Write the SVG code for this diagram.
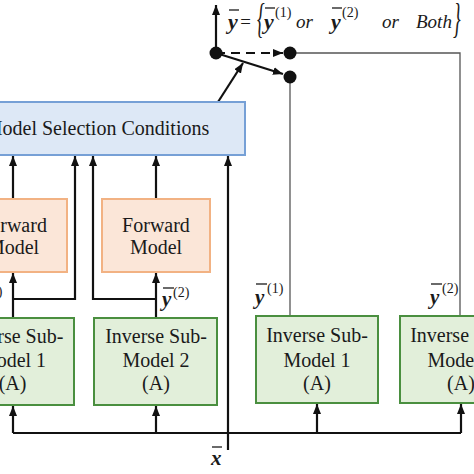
<svg xmlns="http://www.w3.org/2000/svg" width="474" height="474" viewBox="0 0 474 474">
<style>
.msc{fill:#dde8f6;stroke:#76a0d6;stroke-width:2}
.fwd{fill:#fbe6d8;stroke:#f2b283;stroke-width:2}
.inv{fill:#e2efda;stroke:#4a8f3f;stroke-width:2}
text{font-family:'Liberation Serif','DejaVu Serif',serif;fill:#1a1a1a}
.t{font-size:20px;text-anchor:middle}
.v{font-style:italic;font-weight:bold}
.s{font-size:14px}
.e{font-style:italic;font-size:19px}
.bar{stroke:#1a1a1a;stroke-width:1.3}
.c{fill:none;stroke:#111;stroke-width:2.2}
.g{fill:none;stroke:#555;stroke-width:1.3}
</style>
<defs>
<marker id="ah" viewBox="0 0 10 8" refX="10" refY="4" markerWidth="10" markerHeight="8" markerUnits="userSpaceOnUse" orient="auto">
<path d="M0,0 L10,4 L0,8 z" fill="#111"/>
</marker>
</defs>
<rect width="474" height="474" fill="#fff"/>

<g id="connectors">
<path class="c" d="M228,450 V156" marker-end="url(#ah)"/>
<path class="c" d="M13,433 H461"/>
<path class="c" d="M13,433 V406" marker-end="url(#ah)"/>
<path class="c" d="M156,433 V406" marker-end="url(#ah)"/>
<path class="c" d="M317,433 V404" marker-end="url(#ah)"/>
<path class="c" d="M461,433 V404" marker-end="url(#ah)"/>
<path class="c" d="M13,317 V273" marker-end="url(#ah)"/>
<path class="c" d="M13,299 H75 V156" marker-end="url(#ah)"/>
<path class="c" d="M13,199 V156" marker-end="url(#ah)"/>
<path class="c" d="M156,318 V273" marker-end="url(#ah)"/>
<path class="c" d="M156,299 H93 V156" marker-end="url(#ah)"/>
<path class="c" d="M156,199 V156" marker-end="url(#ah)"/>
<path class="c" d="M218,102 L243,63" marker-end="url(#ah)"/>
<path class="c" d="M216,53 V5" marker-end="url(#ah)"/>
<path class="c" d="M216,53 H283" stroke-dasharray="9,6" marker-end="url(#ah)"/>
<path class="c" d="M216,53 L283,74" marker-end="url(#ah)"/>
<path class="g" d="M290,53 H460 V315"/>
<path class="g" d="M290,77 V316"/>
<circle cx="216" cy="53" r="6.5" fill="#111"/>
<circle cx="290" cy="53" r="6.5" fill="#111"/>
<circle cx="290" cy="77" r="6.5" fill="#111"/>
</g>

<g id="msc">
<rect class="msc" x="-52" y="102" width="297" height="53"/>
<text class="t" x="97" y="135">Model Selection Conditions</text>
</g>

<g id="fwd1">
<rect class="fwd" x="-41" y="199" width="108" height="73"/>
<text class="t" x="13" y="232">Forward</text>
<text class="t" x="13" y="254">Model</text>
</g>
<g id="fwd2">
<rect class="fwd" x="102" y="199" width="108" height="73"/>
<text class="t" x="156" y="232">Forward</text>
<text class="t" x="156" y="254">Model</text>
</g>

<g id="inv1">
<rect class="inv" x="-49" y="318" width="123" height="87"/>
<text class="t" x="12.5" y="343">Inverse Sub-</text>
<text class="t" x="12.5" y="367">Model 1</text>
<text class="t" x="12.5" y="390">(A)</text>
</g>
<g id="inv2">
<rect class="inv" x="94" y="318" width="123" height="87"/>
<text class="t" x="156" y="343">Inverse Sub-</text>
<text class="t" x="156" y="367">Model 2</text>
<text class="t" x="156" y="390">(A)</text>
</g>
<g id="inv3">
<rect class="inv" x="256" y="316" width="122" height="87"/>
<text class="t" x="317" y="342">Inverse Sub-</text>
<text class="t" x="317" y="367">Model 1</text>
<text class="t" x="317" y="390">(A)</text>
</g>
<g id="inv4">
<rect class="inv" x="400" y="316" width="122" height="87"/>
<text class="t" x="461" y="342">Inverse Sub-</text>
<text class="t" x="461" y="367">Model 2</text>
<text class="t" x="461" y="390">(A)</text>
</g>

<g id="labels">
<text class="v" x="-25" y="305" font-size="21">y</text>
<line class="bar" x1="-25" y1="287" x2="-14" y2="287"/>
<text class="s" x="-14" y="296">(1)</text>

<text class="v" x="162" y="306" font-size="21">y</text>
<line class="bar" x1="163" y1="288" x2="174" y2="288"/>
<text class="s" x="173" y="297">(2)</text>

<text class="v" x="255" y="304" font-size="21">y</text>
<line class="bar" x1="256" y1="284" x2="267" y2="284"/>
<text class="s" x="267" y="293">(1)</text>

<text class="v" x="430" y="304" font-size="21">y</text>
<line class="bar" x1="431" y1="284" x2="442" y2="284"/>
<text class="s" x="442" y="293">(2)</text>

<text class="v" x="211" y="465" font-size="21">x</text>
<line class="bar" x1="212" y1="447" x2="222" y2="447"/>
</g>

<g id="equation">
<text class="v" x="228" y="29" font-size="22">y</text>
<line class="bar" x1="229" y1="10" x2="239" y2="10"/>
<text class="e" x="239" y="28" font-style="normal">=</text>
<text class="e" x="0" y="0" font-style="normal" font-size="20" transform="translate(257,32) scale(1,2.2)">{</text>
<text class="v" x="264" y="29" font-size="22">y</text>
<line class="bar" x1="265" y1="8" x2="275" y2="8"/>
<text class="s" x="275" y="17" font-size="15">(1)</text>
<text class="e" x="296" y="28">or</text>
<text class="v" x="331" y="29" font-size="22">y</text>
<line class="bar" x1="332" y1="8" x2="342" y2="8"/>
<text class="s" x="342" y="17" font-size="15">(2)</text>
<text class="e" x="382" y="28">or</text>
<text class="e" x="416" y="28">Both</text>
<text class="e" x="0" y="0" font-style="normal" font-size="20" transform="translate(453,32) scale(1,2.2)">}</text>
</g>
</svg>
